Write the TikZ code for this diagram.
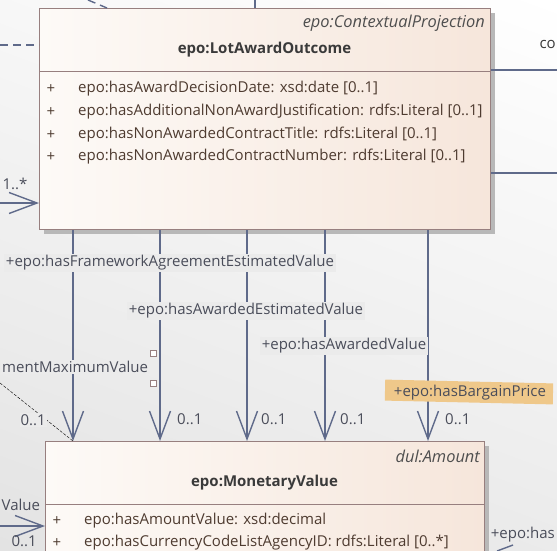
\documentclass[tikz,border=0pt]{standalone}
\usepackage{fontspec}
\setmainfont{Open Sans}
\usetikzlibrary{positioning,arrows.meta,shadows,shadings}
\definecolor{linkc}{HTML}{5F6A8A}
\definecolor{edgec}{HTML}{977F7F}
\definecolor{namec}{HTML}{3A3A3A}
\definecolor{attrc}{HTML}{4E3B30}
\definecolor{labc}{HTML}{4A4D5A}
\definecolor{bgc}{HTML}{EBEBEB}
\definecolor{boxl}{HTML}{FDFAF7}
\definecolor{boxr}{HTML}{F6E6DB}
\definecolor{hilite}{HTML}{EFC88A}
\begin{document}
\begin{tikzpicture}[x=1pt,y=-1pt,
  font=\fontsize{15}{18}\selectfont,
  classbox/.style={draw=edgec, line width=1pt, left color=boxl, right color=boxr,
    anchor=north west, inner sep=0pt,
    drop shadow={shadow xshift=4.5pt, shadow yshift=-4.5pt, fill=black!28, opacity=1}},
  sep/.style={draw=edgec, line width=1pt},
  link/.style={draw=linkc, line width=1.4pt},
  assoc/.style={link, -{Straight Barb[length=28pt,width=21pt]}},
  stereo/.style={text=namec!90, font=\fontsize{16.4}{18}\selectfont\itshape, anchor=east, inner sep=0pt},
  cname/.style={text=namec, font=\fontsize{15}{18}\selectfont\bfseries, inner sep=0pt},
  plus/.style={text=attrc, inner sep=0pt},
  attr/.style={text=attrc, anchor=west, inner sep=0pt},
  role/.style={fill=bgc, text=labc, inner sep=1.5pt},
  mult/.style={text=labc, inner sep=1pt},
  handle/.style={draw=edgec, fill=white, line width=0.6pt, minimum size=6pt, inner sep=0pt},
]
\useasboundingbox (0,0) rectangle (557,551);
\clip (0,0) rectangle (557,551);
\shade[upper left=black!3, upper right=white, lower left=black!11, lower right=black!8]
  (0,0) rectangle (557,551);

% LotAwardOutcome
\node[classbox, minimum width=451pt, minimum height=221pt] (lao) at (39,8) {};
\draw[sep] (lao.north west) ++(0,64) -- ++(451,0);
\node[stereo] (laost) at (485,23) {epo:ContextualProjection};
\node[cname] (laoname) at (264.5,50) {epo:LotAwardOutcome};
\foreach \y/\txt [count=\i] in {89/{epo:hasAwardDecisionDate: xsd:date [0..1]},
    112/{epo:hasAdditionalNonAwardJustification: rdfs:Literal [0..1]},
    135/{epo:hasNonAwardedContractTitle: rdfs:Literal [0..1]},
    157/{epo:hasNonAwardedContractNumber: rdfs:Literal [0..1]}}{
  \node[plus] (laop\i) at (51,\y) {+};
  \node[attr] (laoa\i) at (78,\y) {\txt};
}

% MonetaryValue
\node[classbox, minimum width=439pt, minimum height=130pt] (mv) at (45,441) {};
\draw[sep] (mv.north west) ++(0,63) -- ++(439,0);
\node[stereo] (mvst) at (480,456) {dul:Amount};
\node[cname] (mvname) at (264.5,483) {epo:MonetaryValue};
\foreach \y/\txt [count=\i] in {521/{epo:hasAmountValue: xsd:decimal},
    543/{epo:hasCurrencyCodeListAgencyID: rdfs:Literal [0..*]}}{
  \node[plus] (mvp\i) at (57,\y) {+};
  \node[attr] (mva\i) at (84,\y) {\txt};
}

% associations
\foreach \x in {73,160,247,325,428}
  \draw[assoc] (\x,0 |- lao.south) -- (\x,0 |- mv.north);
\coordinate (tip0) at (0,383);
\draw[black, line width=0.4pt, dash pattern=on 3pt off 1.5pt] (tip0) -- (73,0 |- mv.north);

\node[role] (fwev) at (170,263) {+epo:hasFrameworkAgreementEstimatedValue};
\node[role] (aev) at (246,311) {+epo:hasAwardedEstimatedValue};
\node[role] (av) at (344,346) {+epo:hasAwardedValue};
\node[role, anchor=west] (famv) at (0.5,367) {mentMaximumValue};
\node[fill=hilite, rotate=-1.3, minimum width=168pt, minimum height=21pt] (bphl) at (469,392) {};
\node[text=labc, inner sep=0pt] (bp) at (470,393) {+epo:hasBargainPrice};
\node[handle] (hd1) at (153,353) {};
\node[handle] (hd2) at (153,383) {};
\foreach \x/\n in {176/a,260/b,339/c,444/d}
  \node[mult, anchor=west] (m\n) at (\x,419) {0..1};
\node[mult, fill=bgc, anchor=east] (m0) at (47,420) {0..1};

% links leaving the picture
\coordinate (l1) at (0,45);
\draw[link, dash pattern=on 8pt off 5pt] (l1) -- (l1 -| lao.west);
\coordinate (l2) at (88,0);
\draw[link, dash pattern=on 8pt off 5pt] (l2) -- (107,0 |- lao.north);
\coordinate (l3) at (255,0);
\draw[link] (l3) -- (l3 |- lao.north);
\coordinate (l4) at (0,203);
\draw[assoc] (l4) -- (l4 -| lao.west);
\node[mult] (m1) at (15,184) {1..*};
\coordinate (r1) at (557,70);
\draw[link] (r1) -- (r1 -| lao.east);
\coordinate (r2) at (557,173);
\draw[link] (r2) -- (r2 -| lao.east);
\node[text=namec, anchor=east, inner sep=0pt] (co) at (556,44) {co};
\node[mult, anchor=west] (val) at (0.5,505) {Value};
\coordinate (l5) at (0,526);
\draw[assoc] (l5) -- (l5 -| mv.west);
\node[mult, anchor=east] (m2) at (38,541) {0..1};
\node[mult, anchor=east] (hast) at (556,535) {+epo:has};
\coordinate (r3) at (497,551);
\draw[link] (r3) -- (513,545);
\end{tikzpicture}
\end{document}
